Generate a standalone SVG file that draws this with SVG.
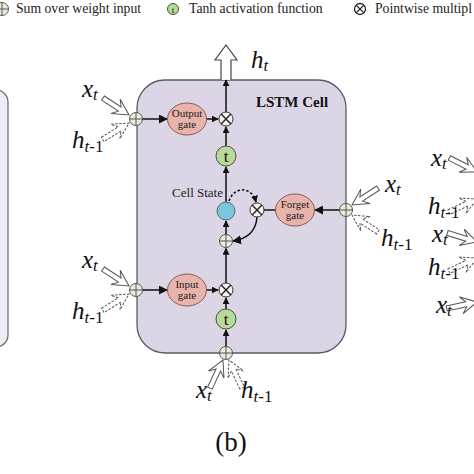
<svg xmlns="http://www.w3.org/2000/svg" width="474" height="474" viewBox="0 0 474 474">
<defs>
<style>
.lbl{font-family:"Liberation Serif",serif;font-style:italic;font-size:25px;fill:#111}
.sub{font-size:17px}
.rm{font-style:normal}
.leg{font-family:"Liberation Serif",serif;font-size:13.7px;fill:#222}
.gtxt{font-family:"Liberation Serif",serif;font-size:11px;fill:#222;text-anchor:middle}
.gate{fill:#e8b3aa;stroke:#8a5a55;stroke-width:1}
.tanh{fill:#b9d99b;stroke:#45553c;stroke-width:1}
.sum{fill:#e7efdc;stroke:#555;stroke-width:1}
.mul{fill:#f3f3ee;stroke:#333;stroke-width:1}
.conn{stroke:#111;stroke-width:1.5;fill:none}
.hollow{fill:#fff;stroke:#555;stroke-width:1}
.dash{fill:#fff;stroke:#555;stroke-width:1;stroke-dasharray:2.5 1.5}
</style>
<marker id="ah" viewBox="0 0 10 10" refX="9" refY="5" markerWidth="7" markerHeight="7" markerUnits="userSpaceOnUse" orient="auto"><path d="M0,0 L10,5 L0,10 z" fill="#111"/></marker>
<marker id="ahb" viewBox="0 0 10 10" refX="9" refY="5" markerWidth="9" markerHeight="9" markerUnits="userSpaceOnUse" orient="auto"><path d="M0,0 L10,5 L0,10 z" fill="#111"/></marker>
<path id="harrow" d="M-31,-2.5 L-11,-2.5 L-16,-8.5 L0,0 L-16,8.5 L-11,2.5 L-31,2.5 Z"/>
<g id="sumsym"><circle r="6.5" class="sum"/><path d="M-6.5,0 H6.5 M0,-6.5 V6.5" stroke="#555" stroke-width="1"/></g>
<g id="mulsym"><circle r="7" class="mul"/><path d="M-4.9,-4.9 L4.9,4.9 M-4.9,4.9 L4.9,-4.9" stroke="#222" stroke-width="1.4"/></g>
<g id="tanhsym"><circle r="10" class="tanh"/><text y="6" text-anchor="middle" font-family="Liberation Serif, serif" font-size="17" fill="#111">t</text></g>
</defs>
<rect width="474" height="474" fill="#fff"/>

<!-- legend -->
<g id="legend">
<use href="#sumsym" x="2" y="9"/>
<text class="leg" x="16" y="13">Sum over weight input</text>
<g transform="translate(173,9)"><circle r="5.5" fill="#b9d99b" stroke="#45553c"/><text y="3.5" text-anchor="middle" font-family="Liberation Serif, serif" font-size="9" fill="#111">t</text></g>
<text class="leg" x="189" y="13">Tanh activation function</text>
<g transform="translate(360,9)"><circle r="5.5" fill="#fff" stroke="#222" stroke-width="1.3"/><path d="M-3.9,-3.9 L3.9,3.9 M-3.9,3.9 L3.9,-3.9" stroke="#222" stroke-width="1.3"/></g>
<text class="leg" x="375" y="13">Pointwise multipl</text>
</g>

<!-- left partial panel -->
<rect id="panel-a" x="-40" y="90" width="48" height="257" rx="12" fill="#edebf3" stroke="#666" stroke-width="1.2"/>

<!-- main cell -->
<rect id="cell" x="137" y="80" width="209" height="273" rx="28" fill="#dcd5e6" stroke="#5a5a66" stroke-width="1.3"/>
<text x="256" y="107" font-family="Liberation Serif, serif" font-weight="bold" font-size="15" fill="#111">LSTM Cell</text>

<!-- output big hollow arrow -->
<path d="M221,80 V60 H215 L226,45 L237,60 H231 V80" fill="#fff" stroke="#444" stroke-width="1.2"/>
<text class="lbl" x="251" y="68">h<tspan class="sub" dy="3">t</tspan></text>

<!-- connectors -->
<g id="connectors">
<line class="conn" x1="142.5" y1="119" x2="167" y2="119" marker-end="url(#ahb)"/>
<line class="conn" x1="206" y1="119" x2="218" y2="119" marker-end="url(#ah)"/>
<line class="conn" x1="226" y1="146" x2="226" y2="127" marker-end="url(#ah)"/>
<line class="conn" x1="226" y1="112" x2="226" y2="80" marker-end="url(#ah)"/>
<line class="conn" x1="226" y1="202" x2="226" y2="167" marker-end="url(#ah)"/>
<line class="conn" x1="226" y1="234.5" x2="226" y2="221" marker-end="url(#ah)"/>
<line class="conn" x1="226" y1="283" x2="226" y2="248.5" marker-end="url(#ah)"/>
<line class="conn" x1="226" y1="309" x2="226" y2="298" marker-end="url(#ah)"/>
<line class="conn" x1="226" y1="346.5" x2="226" y2="330" marker-end="url(#ah)"/>
<line class="conn" x1="142.5" y1="290" x2="167" y2="290" marker-end="url(#ahb)"/>
<line class="conn" x1="206" y1="290" x2="218" y2="290" marker-end="url(#ah)"/>
<line class="conn" x1="339.5" y1="210" x2="315" y2="210" marker-end="url(#ahb)"/>
<line class="conn" x1="276" y1="210" x2="264" y2="210"/>
<path class="conn" d="M229,201 C234,186 252,186 256,202" stroke-dasharray="2.5 2" stroke-width="1.2" marker-end="url(#ah)"/>
<path class="conn" d="M257,217 C256,232 246,239 233,241" marker-end="url(#ahb)"/>
</g>

<!-- nodes -->
<g id="output-gate"><ellipse cx="187" cy="119" rx="19.5" ry="16" class="gate"/><text class="gtxt" x="187" y="117">Output</text><text class="gtxt" x="187" y="127.5">gate</text></g>
<g id="input-gate"><ellipse cx="187" cy="290" rx="19.5" ry="16" class="gate"/><text class="gtxt" x="187" y="288">Input</text><text class="gtxt" x="187" y="298.5">gate</text></g>
<g id="forget-gate"><ellipse cx="295" cy="210" rx="19.5" ry="16" class="gate"/><text class="gtxt" x="295" y="208">Forget</text><text class="gtxt" x="295" y="218.5">gate</text></g>
<g id="mul-out"><use href="#mulsym" x="226" y="119"/></g>
<g id="mul-in"><use href="#mulsym" x="226" y="290"/></g>
<g id="mul-forget"><use href="#mulsym" x="257" y="210"/></g>
<g id="tanh-top"><use href="#tanhsym" x="226" y="156"/></g>
<g id="tanh-bottom"><use href="#tanhsym" x="226" y="319"/></g>
<g id="cell-state"><circle cx="226" cy="211" r="9" fill="#7cc6da" stroke="#4a6a80" stroke-width="1"/><text x="223" y="197" text-anchor="end" font-family="Liberation Serif, serif" font-size="13" fill="#222">Cell State</text></g>
<g id="sum-cell"><use href="#sumsym" x="226" y="241"/></g>
<g id="sum-left-top"><use href="#sumsym" x="136" y="119"/></g>
<g id="sum-left-bottom"><use href="#sumsym" x="136" y="290"/></g>
<g id="sum-right"><use href="#sumsym" x="346" y="210"/></g>
<g id="sum-bottom"><use href="#sumsym" x="226" y="353"/></g>

<!-- input arrows -->
<g id="inputs">
<use href="#harrow" class="hollow" transform="translate(129,115) rotate(33)"/>
<use href="#harrow" class="dash" transform="translate(129,123) rotate(-32)"/>
<use href="#harrow" class="hollow" transform="translate(129,286) rotate(33)"/>
<use href="#harrow" class="dash" transform="translate(129,294) rotate(-32)"/>
<use href="#harrow" class="hollow" transform="translate(352,205) rotate(147)"/>
<use href="#harrow" class="dash" transform="translate(352,215) rotate(213)"/>
<use href="#harrow" class="hollow" transform="translate(223,360) rotate(-65)"/>
<use href="#harrow" class="dash" transform="translate(229,360) rotate(-115)"/>
<use href="#harrow" class="hollow" transform="translate(477,172) rotate(27)"/>
<use href="#harrow" class="dash" transform="translate(477,199) rotate(-25)"/>
<use href="#harrow" class="hollow" transform="translate(477,242) rotate(17)"/>
<use href="#harrow" class="dash" transform="translate(477,258) rotate(-25)"/>
<use href="#harrow" class="hollow" transform="translate(477,302) rotate(-12)"/>
</g>

<!-- labels -->
<g id="labels">
<text class="lbl" x="82" y="97">x<tspan class="sub" dy="3">t</tspan></text>
<text class="lbl" x="72" y="148">h<tspan class="sub" dy="4">t<tspan class="rm">-1</tspan></tspan></text>
<text class="lbl" x="82" y="268">x<tspan class="sub" dy="3">t</tspan></text>
<text class="lbl" x="72" y="319">h<tspan class="sub" dy="4">t<tspan class="rm">-1</tspan></tspan></text>
<text class="lbl" x="385" y="192">x<tspan class="sub" dy="3">t</tspan></text>
<text class="lbl" x="381" y="246">h<tspan class="sub" dy="4">t<tspan class="rm">-1</tspan></tspan></text>
<text class="lbl" x="196" y="398">x<tspan class="sub" dy="3">t</tspan></text>
<text class="lbl" x="241" y="398">h<tspan class="sub" dy="4">t<tspan class="rm">-1</tspan></tspan></text>
<text class="lbl" x="431" y="166">x<tspan class="sub" dy="3">t</tspan></text>
<text class="lbl" x="428" y="214">h<tspan class="sub" dy="4">t<tspan class="rm">-1</tspan></tspan></text>
<text class="lbl" x="432" y="242">x<tspan class="sub" dy="3">t</tspan></text>
<text class="lbl" x="428" y="275">h<tspan class="sub" dy="4">t<tspan class="rm">-1</tspan></tspan></text>
<text class="lbl" x="436" y="313">x<tspan class="sub" dy="3">t</tspan></text>
<text x="231" y="451" text-anchor="middle" font-family="Liberation Serif, serif" font-size="27" fill="#111">(b)</text>
</g>
</svg>
